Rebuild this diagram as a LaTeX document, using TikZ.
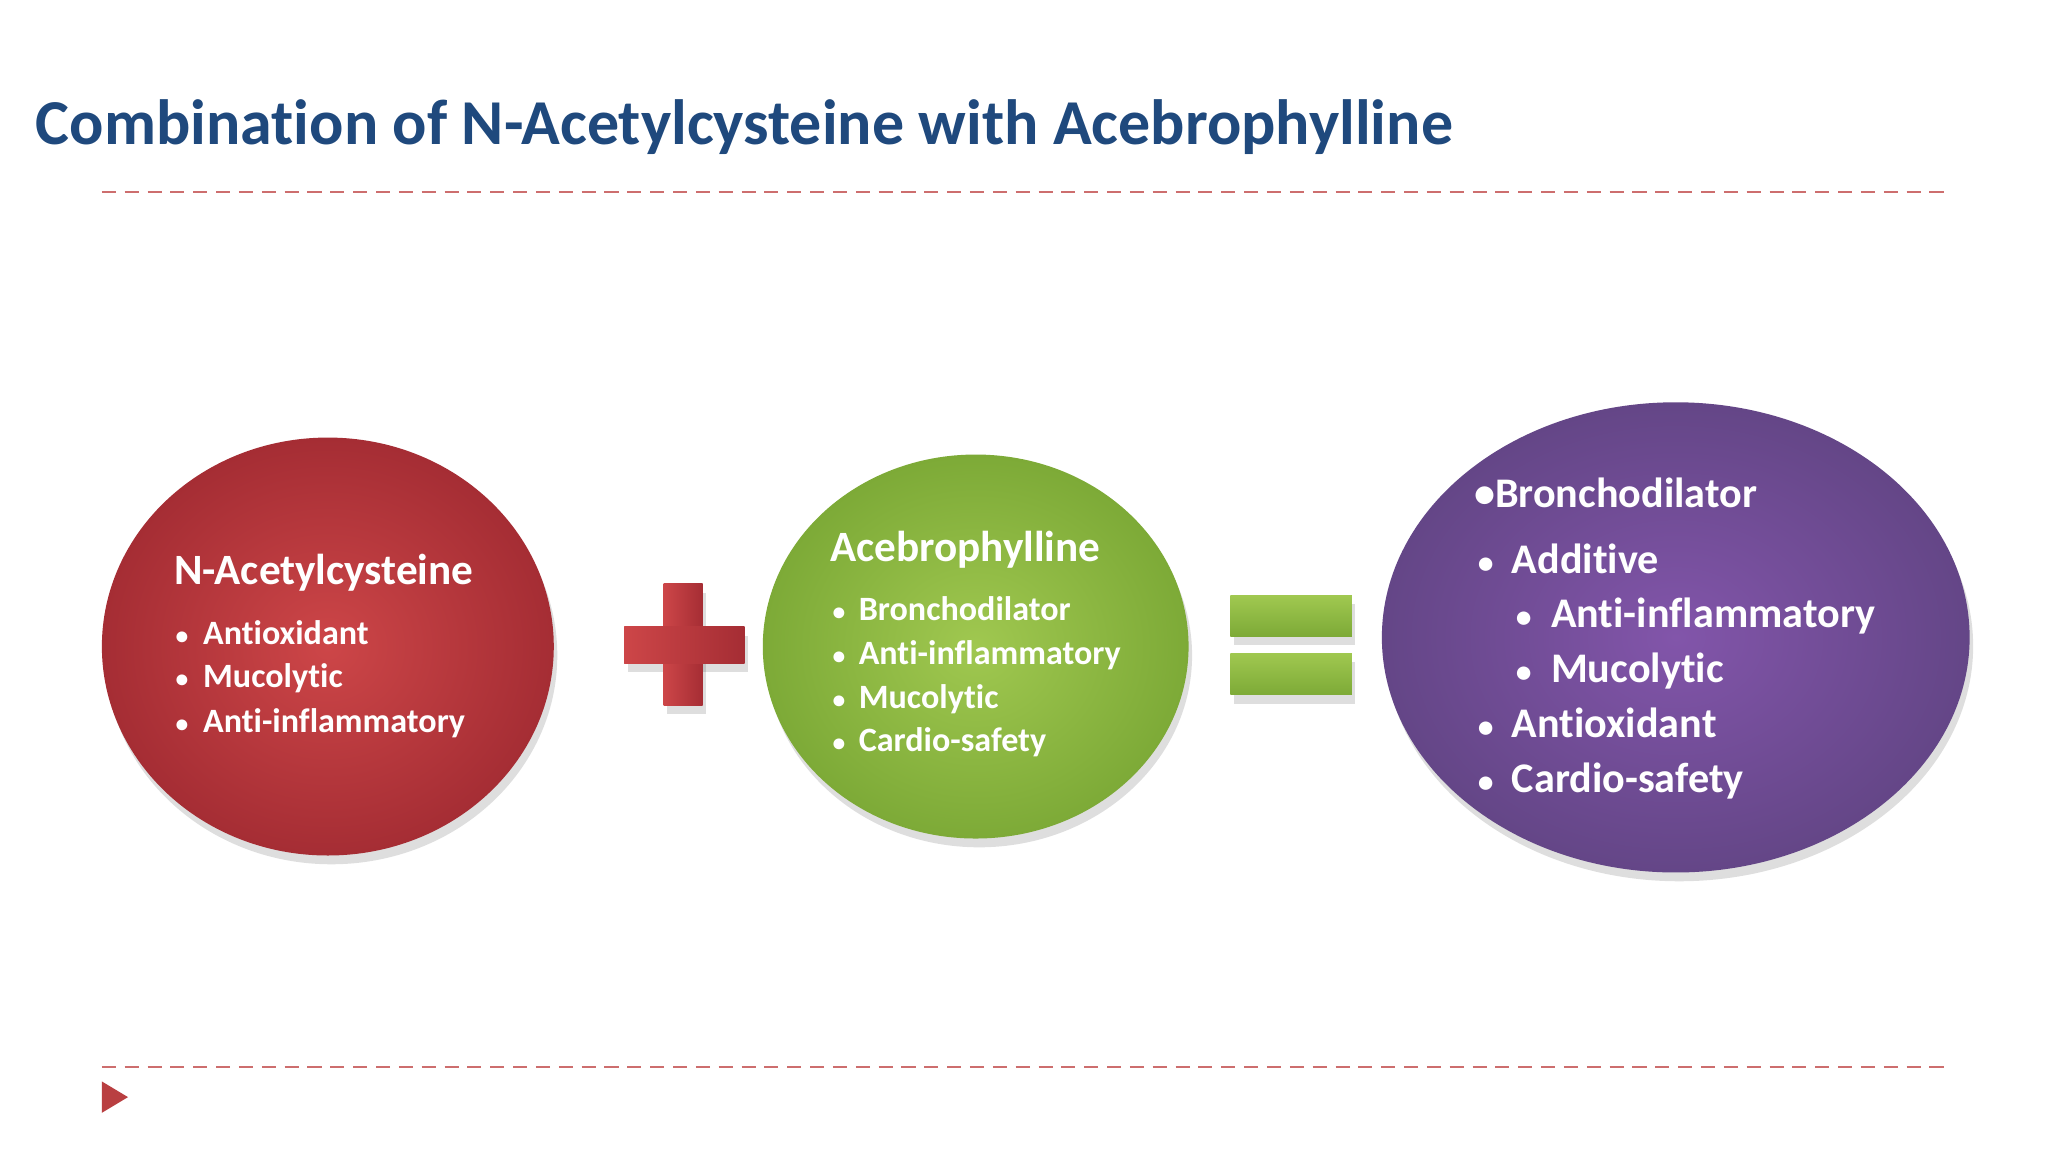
\documentclass[tikz,border=0pt]{standalone}
\usepackage{fontspec}
\setmainfont[Ligatures=NoCommon]{Carlito}
\usetikzlibrary{shadows,calc}
\definecolor{titleblue}{RGB}{31,73,125}
\definecolor{dashred}{RGB}{205,110,110}
\definecolor{redA}{RGB}{205,70,72}
\definecolor{redB}{RGB}{165,45,52}
\definecolor{grnA}{RGB}{160,200,80}
\definecolor{grnB}{RGB}{125,170,55}
\definecolor{purA}{RGB}{130,85,170}
\definecolor{purB}{RGB}{100,70,135}
\tikzset{
  txt/.style={anchor=west,text=white,font=\bfseries,inner sep=0pt,text height=0.7em,text depth=0.2em},
  sh/.style={drop shadow={shadow xshift=1pt,shadow yshift=-2.5pt,fill=black,opacity=0.13}},
}
\newcommand{\bul}{\scalebox{0.75}{•}}
\begin{document}
\begin{tikzpicture}[x=0.01306cm,y=-0.01306cm]
\useasboundingbox (0,0) rectangle (1568,882);
\fill[white] (0,0) rectangle (1568,882);
\node[anchor=west,inner sep=0pt,text=titleblue,font=\fontsize{18.2}{21}\selectfont\bfseries] (title) at (27,97) {Combination of N-Acetylcysteine with Acebrophylline};
\draw[dashred,dash pattern=on 4pt off 2.5pt,line width=0.5pt] (78,147) coordinate (d1a) -- (1490,147) coordinate (d1b);
\draw[dashred,dash pattern=on 4pt off 2.5pt,line width=0.5pt] (78,817) coordinate (d2a) -- (1490,817) coordinate (d2b);
\fill[redA!90!black] (78,828) -- (98,840) -- (78,852) -- cycle;
% circles
\shade[sh,inner color=redA,outer color=redB] (251,495) ellipse [x radius=173,y radius=160];
\shade[sh,inner color=grnA,outer color=grnB] (747,495) ellipse [x radius=163,y radius=147];
\shade[sh,inner color=purA,outer color=purB] (1283,488) ellipse [x radius=225,y radius=180];
% plus
\shade[sh,top color=redA,bottom color=redB] (478,480) rectangle (570,508);
\shade[sh,left color=redA,right color=redB] (508,447) rectangle (538,540);
\shade[left color=redA,right color=redB] (478,480) rectangle (570,508);
% equals
\shade[sh,top color=grnA,bottom color=grnB] (942,456) rectangle (1035,487);
\shade[sh,top color=grnA,bottom color=grnB] (942,500) rectangle (1035,532);
% red text
\node[txt,font=\fontsize{12.3}{14}\selectfont\bfseries] (r0) at (133,441) {N-Acetylcysteine};
\foreach \t/\y [count=\i] in {Antioxidant/487,Mucolytic/520,Anti-inflammatory/554}{
  \node[txt,font=\fontsize{9.7}{12}\selectfont\bfseries] (rb\i) at (134,\y) {\bul};
  \node[txt,font=\fontsize{9.7}{12}\selectfont\bfseries] (r\i) at (155,\y) {\t};}
% green text
\node[txt,font=\fontsize{12.3}{14}\selectfont\bfseries] (g0) at (635,423) {Acebrophylline};
\foreach \t/\y [count=\i] in {Bronchodilator/468,Anti-inflammatory/502,Mucolytic/536,Cardio-safety/569}{
  \node[txt,font=\fontsize{9.7}{12}\selectfont\bfseries] (gb\i) at (637,\y) {\bul};
  \node[txt,font=\fontsize{9.7}{12}\selectfont\bfseries] (g\i) at (657,\y) {\t};}
% purple text
\node[txt,font=\fontsize{12}{14}\selectfont\bfseries] (p0) at (1128,382) {•Bronchodilator};
\foreach \t/\bx/\tx/\y [count=\i] in {Additive/1131/1157/432,Anti-inflammatory/1160/1187/474,Mucolytic/1160/1187/516,Antioxidant/1131/1157/558,Cardio-safety/1131/1157/600}{
  \node[txt,font=\fontsize{12}{14}\selectfont\bfseries] (pb\i) at (\bx,\y) {\bul};
  \node[txt,font=\fontsize{12}{14}\selectfont\bfseries] (p\i) at (\tx,\y) {\t};}
\end{tikzpicture}
\end{document}
